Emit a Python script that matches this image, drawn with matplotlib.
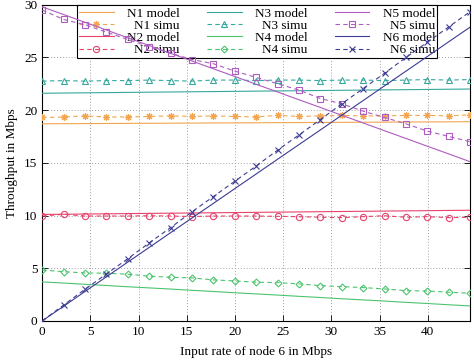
import numpy as np
import matplotlib
matplotlib.use("Agg")
import matplotlib.pyplot as plt

#### Data

x_rate = [0.0, 2.22, 4.44, 6.66, 8.88, 11.1, 13.32, 15.54, 17.76, 19.98, 22.2,
          24.42, 26.64, 28.86, 31.08, 33.3, 35.52, 37.74, 39.96, 42.18, 44.4]

n1_model = [18.7, 18.71, 18.72, 18.73, 18.74, 18.75, 18.76, 18.77, 18.78, 18.79, 18.8,
            18.81, 18.82, 18.83, 18.84, 18.85, 18.86, 18.87, 18.88, 18.89, 18.9]
n1_simu = [19.3, 19.35, 19.45, 19.35, 19.35, 19.4, 19.45, 19.4, 19.45, 19.4, 19.35,
           19.5, 19.4, 19.45, 19.5, 19.45, 19.45, 19.5, 19.5, 19.45, 19.55]

n2_model = [10.1, 10.12, 10.14, 10.16, 10.18, 10.2, 10.22, 10.24, 10.26, 10.28, 10.3,
            10.32, 10.34, 10.36, 10.38, 10.4, 10.42, 10.44, 10.46, 10.48, 10.5]
n2_simu = [9.95, 10.11, 9.95, 9.95, 9.95, 9.98, 9.95, 9.9, 9.95, 9.95, 9.95,
           9.92, 9.89, 9.83, 9.8, 9.89, 9.98, 9.83, 9.89, 9.8, 9.83]

n3_model = [21.6, 21.62, 21.64, 21.66, 21.68, 21.7, 21.72, 21.74, 21.76, 21.78, 21.8,
            21.82, 21.84, 21.86, 21.88, 21.9, 21.92, 21.94, 21.96, 21.98, 22.0]
n3_simu = [22.75, 22.8, 22.75, 22.8, 22.8, 22.85, 22.8, 22.75, 22.85, 22.85, 22.8,
           22.85, 22.85, 22.8, 22.85, 22.85, 22.8, 22.85, 22.9, 22.85, 22.9]

n4_model = [3.7, 3.59, 3.47, 3.36, 3.24, 3.13, 3.02, 2.9, 2.79, 2.67, 2.56,
            2.45, 2.33, 2.22, 2.1, 1.99, 1.88, 1.76, 1.65, 1.53, 1.42]
n4_simu = [4.83, 4.67, 4.55, 4.52, 4.43, 4.24, 4.14, 4.08, 3.89, 3.79, 3.67,
           3.63, 3.51, 3.35, 3.25, 3.16, 3.03, 2.87, 2.84, 2.72, 2.62]

n5_model = [29.8, 29.07, 28.33, 27.6, 26.86, 26.13, 25.39, 24.66, 23.92, 23.19, 22.45,
            21.72, 20.98, 20.25, 19.51, 18.78, 18.04, 17.31, 16.57, 15.84, 15.1]
n5_simu = [29.5, 28.6, 28.1, 27.4, 26.7, 26.0, 25.4, 24.8, 24.4, 23.7, 23.1,
           22.5, 21.9, 21.1, 20.6, 19.9, 19.3, 18.7, 18.0, 17.5, 17.0]

n6_model = [0.0, 1.39, 2.79, 4.18, 5.58, 6.97, 8.37, 9.76, 11.15, 12.55, 13.94,
            15.34, 16.73, 18.12, 19.52, 20.91, 22.31, 23.7, 25.09, 26.49, 27.88]
n6_simu = [0.0, 1.5, 3.0, 4.45, 5.9, 7.4, 8.85, 10.35, 11.8, 13.25, 14.7,
           16.2, 17.65, 19.1, 20.6, 22.05, 23.5, 25.0, 26.45, 27.9, 29.35]

series = [
    ("N1 model", n1_model, None), ("N1 simu", n1_simu, (8, 2, 0)),
    ("N2 model", n2_model, None), ("N2 simu", n2_simu, "o"),
    ("N3 model", n3_model, None), ("N3 simu", n3_simu, "^"),
    ("N4 model", n4_model, None), ("N4 simu", n4_simu, "D"),
    ("N5 model", n5_model, None), ("N5 simu", n5_simu, "s"),
    ("N6 model", n6_model, None), ("N6 simu", n6_simu, "x"),
]
colors = {"N1": "#f2a54e", "N2": "#e8436c", "N3": "#35a89e",
          "N4": "#4cc46e", "N5": "#ad5cc0", "N6": "#3c3c94"}
msizes = {"o": 4.5, "^": 4.5, "D": 3.5, "s": 4.5, "x": 4.5}

#### Plot

plt.rcParams["font.family"] = ["Liberation Serif", "DejaVu Serif"]
plt.rcParams["font.size"] = 9.5

fig = plt.figure(figsize = (4.74, 3.63), dpi = 100)
ax = fig.add_axes([0.089, 0.116, 0.903, 0.871])

for name, vals, mk in series:
    c = colors[name[:2]]
    if mk is None:
        ax.plot(x_rate, vals, color = c, lw = 0.8, label = name, zorder = 3)
    else:
        ax.plot(x_rate, vals, color = c, lw = 0.8, ls = (0, (4, 3)), marker = mk,
                ms = msizes.get(mk, 5), mfc = "none", mew = 0.8,
                label = name, zorder = 3)

ax.set_xlim(0, 44.4)
ax.set_ylim(0, 30)
ax.set_xticks(np.arange(0, 45, 5))
ax.set_yticks(np.arange(0, 31, 5))
ax.grid(True, color = "#a0a0a0", ls = (0, (1, 2)), lw = 0.7)
ax.tick_params(direction = "in", length = 4, top = True, right = True, width = 0.6)
for s in ax.spines.values():
    s.set_linewidth(0.8)

ax.set_xlabel("Input rate of node 6 in Mbps", labelpad = 6)
ax.set_ylabel("Throughput in Mbps", labelpad = 4)

leg = ax.legend(loc = "upper left", bbox_to_anchor = (0.082, 0.832, 0.841, 0.166),
                mode = "expand", ncol = 3, fancybox = False, framealpha = 1,
                edgecolor = "black", fontsize = 9.5, labelspacing = 0.0,
                borderpad = 0.15, handlelength = 2.6, handletextpad = 1.0,
                columnspacing = 0.4, borderaxespad = 0)
leg.get_frame().set_linewidth(0.8)
leg.set_zorder(2.5)

# right-justify legend texts within each column, gnuplot style
fig.canvas.draw()
texts = leg.get_texts()
for col in range(3):
    grp = texts[col * 4:(col + 1) * 4]
    widths = [t.get_window_extent().width for t in grp]
    for t, w in zip(grp, widths):
        t.set_position((max(widths) - w, 0))

fig.savefig("out.png", dpi = 100)
